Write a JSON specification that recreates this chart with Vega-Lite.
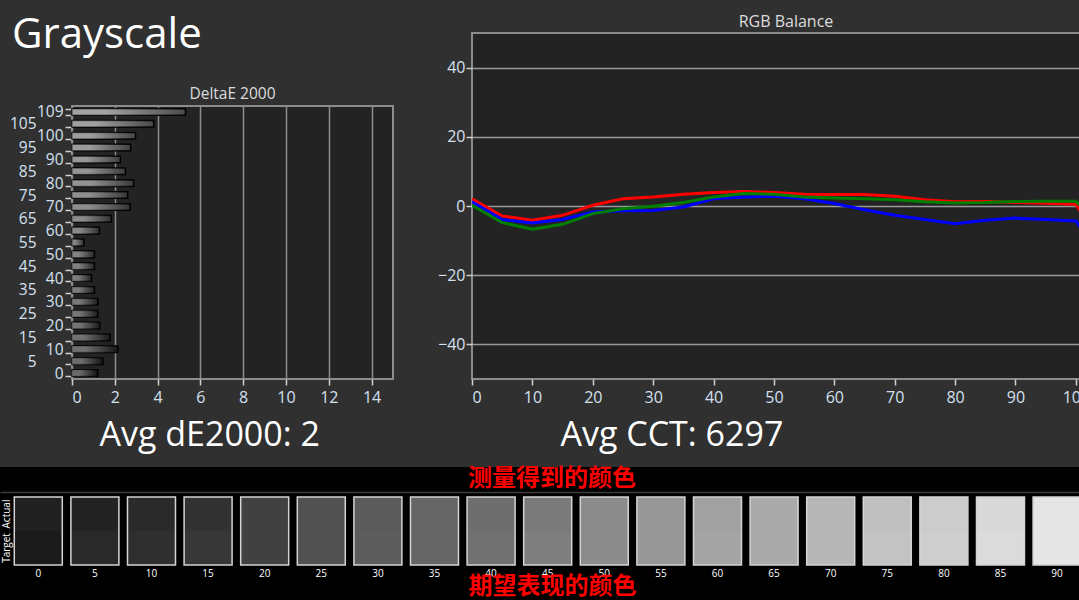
{
  "$schema": "https://vega.github.io/schema/vega-lite/v6.json",
  "background": "#303030",
  "padding": {"left": 0, "top": 13, "right": 0, "bottom": 0},
  "config": {
    "font": "Open Sans",
    "view": {"stroke": null},
    "axis": {"labelFont": "Open Sans", "titleFont": "Open Sans"},
    "title": {"font": "Open Sans", "fontWeight": "normal"}
  },
  "datasets": {
    "none": [],
    "de": [
      {"level": 109, "de": 5.3}, {"level": 105, "de": 3.82}, {"level": 100, "de": 2.97},
      {"level": 95, "de": 2.74}, {"level": 90, "de": 2.26}, {"level": 85, "de": 2.5},
      {"level": 80, "de": 2.88}, {"level": 75, "de": 2.6}, {"level": 70, "de": 2.72},
      {"level": 65, "de": 1.84}, {"level": 60, "de": 1.28}, {"level": 55, "de": 0.55},
      {"level": 50, "de": 1.05}, {"level": 45, "de": 1.05}, {"level": 40, "de": 0.91},
      {"level": 35, "de": 1.05}, {"level": 30, "de": 1.21}, {"level": 25, "de": 1.21},
      {"level": 20, "de": 1.3}, {"level": 15, "de": 1.78}, {"level": 10, "de": 2.15},
      {"level": 5, "de": 1.45}, {"level": 0, "de": 1.21}
    ],
    "rgb": [
      {"x": 0, "ch": "R", "v": 2.1}, {"x": 5, "ch": "R", "v": -2.9}, {"x": 10, "ch": "R", "v": -4.1},
      {"x": 15, "ch": "R", "v": -2.7}, {"x": 20, "ch": "R", "v": 0.2}, {"x": 25, "ch": "R", "v": 2.1},
      {"x": 30, "ch": "R", "v": 2.6}, {"x": 35, "ch": "R", "v": 3.4}, {"x": 40, "ch": "R", "v": 3.9},
      {"x": 45, "ch": "R", "v": 4.2}, {"x": 50, "ch": "R", "v": 3.9}, {"x": 55, "ch": "R", "v": 3.4},
      {"x": 60, "ch": "R", "v": 3.3}, {"x": 65, "ch": "R", "v": 3.3}, {"x": 70, "ch": "R", "v": 2.8},
      {"x": 75, "ch": "R", "v": 1.8}, {"x": 80, "ch": "R", "v": 1.2}, {"x": 85, "ch": "R", "v": 1.3},
      {"x": 90, "ch": "R", "v": 1.0}, {"x": 95, "ch": "R", "v": 0.8}, {"x": 100, "ch": "R", "v": 0.5},
      {"x": 109, "ch": "R", "v": -24},
      {"x": 0, "ch": "B", "v": 1.2}, {"x": 5, "ch": "B", "v": -3.9}, {"x": 10, "ch": "B", "v": -4.9},
      {"x": 15, "ch": "B", "v": -3.9}, {"x": 20, "ch": "B", "v": -1.7}, {"x": 25, "ch": "B", "v": -1.4},
      {"x": 30, "ch": "B", "v": -1.3}, {"x": 35, "ch": "B", "v": -0.3}, {"x": 40, "ch": "B", "v": 2.1},
      {"x": 45, "ch": "B", "v": 2.6}, {"x": 50, "ch": "B", "v": 2.8}, {"x": 55, "ch": "B", "v": 2.1},
      {"x": 60, "ch": "B", "v": 0.7}, {"x": 65, "ch": "B", "v": -1.1}, {"x": 70, "ch": "B", "v": -2.7},
      {"x": 75, "ch": "B", "v": -3.9}, {"x": 80, "ch": "B", "v": -5.1}, {"x": 85, "ch": "B", "v": -4.1},
      {"x": 90, "ch": "B", "v": -3.5}, {"x": 95, "ch": "B", "v": -3.9}, {"x": 100, "ch": "B", "v": -4.3},
      {"x": 109, "ch": "B", "v": -28},
      {"x": 0, "ch": "G", "v": 0.2}, {"x": 5, "ch": "G", "v": -4.8}, {"x": 10, "ch": "G", "v": -6.7},
      {"x": 15, "ch": "G", "v": -5.3}, {"x": 20, "ch": "G", "v": -2.2}, {"x": 25, "ch": "G", "v": -0.8},
      {"x": 30, "ch": "G", "v": -0.1}, {"x": 35, "ch": "G", "v": 1.0}, {"x": 40, "ch": "G", "v": 2.6},
      {"x": 45, "ch": "G", "v": 3.6}, {"x": 50, "ch": "G", "v": 3.4}, {"x": 55, "ch": "G", "v": 2.6},
      {"x": 60, "ch": "G", "v": 2.3}, {"x": 65, "ch": "G", "v": 2.1}, {"x": 70, "ch": "G", "v": 1.8},
      {"x": 75, "ch": "G", "v": 1.2}, {"x": 80, "ch": "G", "v": 0.9}, {"x": 85, "ch": "G", "v": 1.0},
      {"x": 90, "ch": "G", "v": 1.3}, {"x": 95, "ch": "G", "v": 1.4}, {"x": 100, "ch": "G", "v": 1.4},
      {"x": 109, "ch": "G", "v": -14}
    ],
    "sw": [
      {"level": 0, "kind": "Actual", "gray": 10}, {"level": 0, "kind": "Target", "gray": 0},
      {"level": 5, "kind": "Actual", "gray": 13}, {"level": 5, "kind": "Target", "gray": 21},
      {"level": 10, "kind": "Actual", "gray": 22}, {"level": 10, "kind": "Target", "gray": 29},
      {"level": 15, "kind": "Actual", "gray": 33}, {"level": 15, "kind": "Target", "gray": 39},
      {"level": 20, "kind": "Actual", "gray": 51}, {"level": 20, "kind": "Target", "gray": 51},
      {"level": 25, "kind": "Actual", "gray": 72}, {"level": 25, "kind": "Target", "gray": 72},
      {"level": 30, "kind": "Actual", "gray": 83}, {"level": 30, "kind": "Target", "gray": 85},
      {"level": 35, "kind": "Actual", "gray": 94}, {"level": 35, "kind": "Target", "gray": 94},
      {"level": 40, "kind": "Actual", "gray": 104}, {"level": 40, "kind": "Target", "gray": 108},
      {"level": 45, "kind": "Actual", "gray": 118}, {"level": 45, "kind": "Target", "gray": 122},
      {"level": 50, "kind": "Actual", "gray": 138}, {"level": 50, "kind": "Target", "gray": 138},
      {"level": 55, "kind": "Actual", "gray": 150}, {"level": 55, "kind": "Target", "gray": 150},
      {"level": 60, "kind": "Actual", "gray": 160}, {"level": 60, "kind": "Target", "gray": 163},
      {"level": 65, "kind": "Actual", "gray": 170}, {"level": 65, "kind": "Target", "gray": 170},
      {"level": 70, "kind": "Actual", "gray": 182}, {"level": 70, "kind": "Target", "gray": 183},
      {"level": 75, "kind": "Actual", "gray": 192}, {"level": 75, "kind": "Target", "gray": 195},
      {"level": 80, "kind": "Actual", "gray": 205}, {"level": 80, "kind": "Target", "gray": 207},
      {"level": 85, "kind": "Actual", "gray": 218}, {"level": 85, "kind": "Target", "gray": 220},
      {"level": 90, "kind": "Actual", "gray": 230}, {"level": 90, "kind": "Target", "gray": 230}
    ]
  },
  "spacing": 14,
  "vconcat": [
    {
      "spacing": 7,
      "hconcat": [
        {
          "width": 1,
          "height": 1,
          "data": {"name": "none"},
          "mark": {"type": "point", "opacity": 0},
          "encoding": {}
        },
        {
          "spacing": 0,
          "vconcat": [
            {
              "width": 321,
              "height": 52,
              "data": {"name": "none"},
              "mark": {"type": "point", "opacity": 0},
              "encoding": {},
              "title": {"text": "Grayscale", "fontSize": 42, "color": "#ffffff", "anchor": "start", "dx": -60, "offset": -24}
            },
            {
              "width": 321,
              "height": 273,
              "data": {"name": "de"},
              "view": {"fill": "#232323", "stroke": "#8c8c8c", "strokeWidth": 2},
              "title": {"text": "DeltaE 2000", "fontSize": 15.5, "color": "#dcdcdc", "offset": -3},
              "encoding": {
                "y": {
                  "field": "level", "type": "ordinal", "sort": "descending",
                  "scale": {"paddingInner": 0.45, "paddingOuter": 0.225},
                  "axis": {
                    "title": null,
                    "labelColor": "#d4e0f0", "labelFontSize": 15.5, "labelAngle": 0,
                    "labelPadding": {"condition": {"test": "datum.value % 10 == 5", "value": 29}, "value": 2},
                    "tickBand": "extent", "tickSize": 7, "tickColor": "#d0d0d0", "tickWidth": 1.5,
                    "domain": false
                  }
                },
                "x": {
                  "field": "de", "type": "quantitative",
                  "scale": {"domain": [0, 15], "nice": false},
                  "axis": {
                    "values": [0, 2, 4, 6, 8, 10, 12, 14],
                    "grid": true, "gridColor": "#8c8c8c", "gridWidth": 1.5,
                    "domain": false, "tickSize": 6, "tickColor": "#d0d0d0", "tickWidth": 1.5,
                    "labelColor": "#d4e0f0", "labelFontSize": 16, "labelPadding": 4,
                    "title": "Avg dE2000: 2", "titleFontSize": 34, "titleColor": "#ffffff",
                    "titleFontWeight": "normal", "titleAlign": "left", "titleX": 27, "titlePadding": 13
                  }
                }
              },
              "layer": [
                {
                  "mark": {"type": "bar", "stroke": "#000000", "strokeWidth": 1.5},
                  "encoding": {
                    "fill": {
                      "field": "level", "type": "quantitative",
                      "scale": {"domain": [0, 100], "range": ["#1a1a1a", "#ffffff"], "clamp": true},
                      "legend": null
                    }
                  }
                },
                {
                  "mark": {
                    "type": "bar",
                    "fillOpacity": 0.35,
                    "fill": {
                      "gradient": "linear", "x1": 0, "x2": 1, "y1": 0, "y2": 0,
                      "stops": [
                        {"offset": 0, "color": "#ffffff"},
                        {"offset": 0.3, "color": "#ffffff"},
                        {"offset": 1, "color": "#000000"}
                      ]
                    }
                  }
                }
              ]
            }
          ]
        },
        {
          "width": 628,
          "height": 346,
          "data": {"name": "rgb"},
          "view": {"fill": "#232323", "stroke": "#8c8c8c", "strokeWidth": 2},
          "title": {"text": "RGB Balance", "fontSize": 16, "color": "#dcdcdc", "offset": 3},
          "mark": {"type": "line", "strokeWidth": 3, "clip": true},
          "encoding": {
            "x": {
              "field": "x", "type": "quantitative",
              "scale": {"domain": [0, 104], "nice": false, "zero": false},
              "axis": {
                "values": [0, 10, 20, 30, 40, 50, 60, 70, 80, 90, 100],
                "grid": false, "domain": false, "tickSize": 6, "tickColor": "#d0d0d0", "tickWidth": 1.5,
                "labelColor": "#d4e0f0", "labelFontSize": 16, "labelPadding": 4,
                "title": "Avg CCT: 6297", "titleFontSize": 34, "titleColor": "#ffffff",
                "titleFontWeight": "normal", "titleAlign": "left", "titleX": 88, "titlePadding": 13
              }
            },
            "y": {
              "field": "v", "type": "quantitative",
              "scale": {"domain": [-50, 50], "nice": false},
              "axis": {
                "values": [-40, -20, 0, 20, 40],
                "grid": true, "gridColor": "#9a9a9a", "gridWidth": 1.5,
                "domain": false, "tickSize": 6, "tickColor": "#d0d0d0", "tickWidth": 1.5,
                "labelColor": "#d4e0f0", "labelFontSize": 16, "labelPadding": 1,
                "title": "|", "titleColor": "rgba(0,0,0,0)", "titleFontSize": 4, "titlePadding": 31
              }
            },
            "color": {
              "field": "ch", "type": "nominal",
              "scale": {"domain": ["R", "G", "B"], "range": ["#ff0000", "#008000", "#0000ff"]},
              "legend": null
            }
          }
        }
      ]
    },
    {
      "width": 1090,
      "height": 133,
      "data": {"name": "sw"},
      "view": {"fill": "#000000", "stroke": null},
      "title": {
        "text": "测量得到的颜色", "font": "Noto Sans CJK SC", "fontSize": 24, "fontWeight": "bold",
        "color": "#ff0000", "anchor": "middle", "dx": 7, "offset": -24
      },
      "resolve": {"axis": {"x": "independent"}},
      "layer": [
        {
          "mark": {"type": "rect"},
          "encoding": {
            "x": {
              "field": "level", "type": "ordinal",
              "scale": {"paddingInner": 0.152, "paddingOuter": 0.205, "align": 0.616},
              "axis": {
                "orient": "bottom", "offset": -35, "domain": false, "ticks": false, "labelAngle": 0,
                "labelColor": "#ffffff", "labelFontSize": 10, "labelPadding": 3,
                "title": "期望表现的颜色", "titleFont": "Noto Sans CJK SC", "titleFontSize": 24,
                "titleFontWeight": "bold", "titleColor": "#ff0000", "titlePadding": -4,
                "titleX": 552, "titleAlign": "center"
              }
            },
            "y": {
              "field": "kind", "type": "nominal",
              "scale": {"domain": ["Actual", "Target"], "paddingInner": 0, "paddingOuter": 0.956, "align": 0.4615},
              "axis": {
                "orient": "left", "offset": -12, "domain": false, "ticks": false, "labelAngle": -90,
                "labelColor": "#ffffff", "labelFontSize": 10, "labelPadding": 1, "title": null
              }
            },
            "fill": {
              "field": "gray", "type": "quantitative",
              "scale": {"domain": [0, 255], "range": ["#000000", "#ffffff"]},
              "legend": null
            }
          }
        },
        {
          "transform": [{"filter": "datum.kind == 'Actual'"}],
          "mark": {"type": "rect", "filled": false, "stroke": "#d4d4d4", "strokeWidth": 1.5},
          "encoding": {
            "x": {
              "field": "level", "type": "ordinal",
              "axis": {
                "orient": "top", "offset": -25, "domain": true, "domainColor": "#3c3c3c", "domainWidth": 1.5,
                "ticks": false, "labels": false, "title": null
              }
            },
            "y": {"datum": "Actual", "type": "nominal", "bandPosition": 0},
            "y2": {"datum": "Target", "bandPosition": 1}
          }
        }
      ]
    }
  ]
}
